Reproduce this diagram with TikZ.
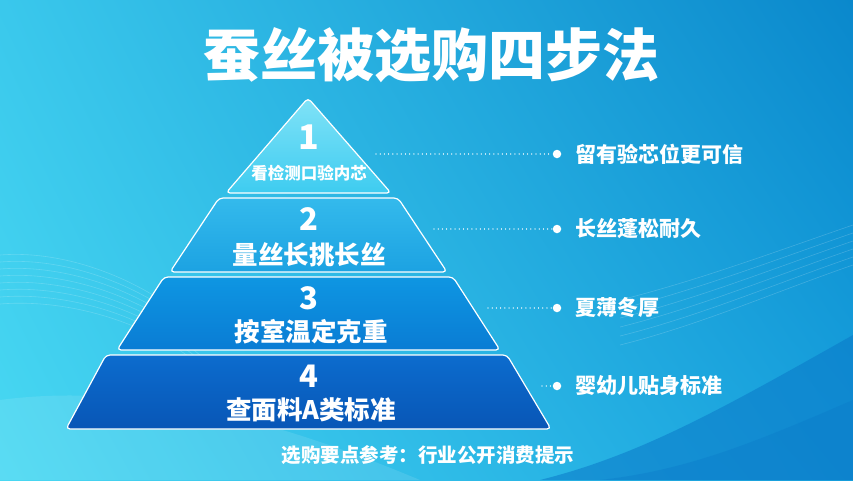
\documentclass[tikz,border=0pt]{standalone}
\usepackage{fontspec}
\setmainfont{Noto Sans CJK SC}
\usetikzlibrary{shadings}
\definecolor{bgA}{RGB}{58,200,236}
\definecolor{bgB}{RGB}{10,136,204}
\definecolor{bgC}{RGB}{72,216,242}
\definecolor{bgD}{RGB}{24,162,222}
\definecolor{waveC}{RGB}{10,120,200}
\definecolor{t1a}{RGB}{128,226,247}
\definecolor{t1b}{RGB}{62,204,240}
\definecolor{t2a}{RGB}{52,186,236}
\definecolor{t2b}{RGB}{28,162,226}
\definecolor{t3a}{RGB}{14,150,226}
\definecolor{t3b}{RGB}{10,124,212}
\definecolor{t4a}{RGB}{12,108,206}
\definecolor{t4b}{RGB}{8,86,182}
\tikzset{
  tier/.style={draw=white, line width=1.2pt, rounded corners=4pt, line join=round},
  num/.style={text=white, font=\fontsize{31}{31}\selectfont\bfseries, inner sep=0pt},
  lab/.style={text=white, font=\fontsize{25.5}{25.5}\selectfont\bfseries, inner sep=0pt},
  side/.style={text=white, font=\fontsize{21}{21}\selectfont\bfseries, inner sep=0pt, anchor=west},
  dotline/.style={draw=white, draw opacity=0.85, line width=1.2pt, dash pattern=on 0.01pt off 4.2pt, line cap=round},
  enddot/.style={circle, fill=white, minimum size=8.5pt, inner sep=0pt},
  arcline/.style={draw=white, draw opacity=0.18, line width=0.6pt}
}
\begin{document}
\begin{tikzpicture}[x=1pt,y=-1pt]
\useasboundingbox (0,0) rectangle (853,480);
% background
\shade[upper left=bgA, upper right=bgB, lower left=bgC, lower right=bgD] (0,0) rectangle (853,480);
\fill[white, opacity=0.10] (0,400) .. controls (150,380) and (300,430) .. (420,480) -- (0,480) -- cycle;
\fill[waveC, opacity=0.55] (540,480) .. controls (640,455) and (720,410) .. (853,335) -- (853,480) -- cycle;
\fill[waveC, opacity=0.35] (600,480) .. controls (690,470) and (760,440) .. (853,400) -- (853,480) -- cycle;
\foreach \k in {0,...,7}{
  \draw[arcline] (0,{255+\k*7}) .. controls (60,{250+\k*7}) and (140,{275+\k*6}) .. (200,{330+\k*5});
}
\foreach \k in {0,...,5}{
  \draw[arcline] (620,{300+\k*9}) .. controls (700,{280+\k*9}) and (780,{250+\k*8}) .. (853,{225+\k*8});
}
% title
\node[text=white, font=\fontsize{57}{57}\selectfont\bfseries, inner sep=0pt] (title) at (431,55) {蚕丝被选购四步法};
% tiers
\shade[tier, top color=t1a, bottom color=t1b] (226,193) -- (308,98) -- (391,193) -- cycle;
\shade[tier, top color=t2a, bottom color=t2b] (219,198) -- (398,198) -- (447,272) -- (170,272) -- cycle;
\shade[tier, top color=t3a, bottom color=t3b] (164,277) -- (453,277) -- (500,350) -- (117,350) -- cycle;
\shade[tier, top color=t4a, bottom color=t4b] (106,355) -- (507,355) -- (551,429) -- (66,429) -- cycle;
% tier texts
\node[num, font=\fontsize{34}{34}\selectfont\bfseries] (n1) at (309,137) {1};
\node[lab, font=\fontsize{16.5}{16.5}\selectfont\bfseries] (l1) at (309,173) {看检测口验内芯};
\node[num] (n2) at (309,219) {2};
\node[lab] (l2) at (309,255) {量丝长挑长丝};
\node[num] (n3) at (309,298) {3};
\node[lab] (l3) at (311,332) {按室温定克重};
\node[num] (n4) at (309,376) {4};
\node[lab] (l4) at (311,410) {查面料A类标准};
% side notes
\coordinate (s1) at (376,154);
\coordinate (s2) at (434,229);
\coordinate (s3) at (488,308);
\coordinate (s4) at (542,386);
\node[enddot] (d1) at (557,154) {};
\node[enddot] (d2) at (557,229) {};
\node[enddot] (d3) at (557,308) {};
\node[enddot] (d4) at (557,386) {};
\draw[dotline] (s1) -- (d1.west);
\draw[dotline] (s2) -- (d2.west);
\draw[dotline] (s3) -- (d3.west);
\draw[dotline] (s4) -- (d4.west);
\node[side] (r1) at (575,154) {留有验芯位更可信};
\node[side] (r2) at (575,229) {长丝蓬松耐久};
\node[side] (r3) at (575,308) {夏薄冬厚};
\node[side] (r4) at (575,386) {婴幼儿贴身标准};
% footer
\node[text=white, font=\fontsize{19.5}{19.5}\selectfont\bfseries, inner sep=0pt] (foot) at (428,455) {选购要点参考：行业公开消费提示};
\end{tikzpicture}
\end{document}
